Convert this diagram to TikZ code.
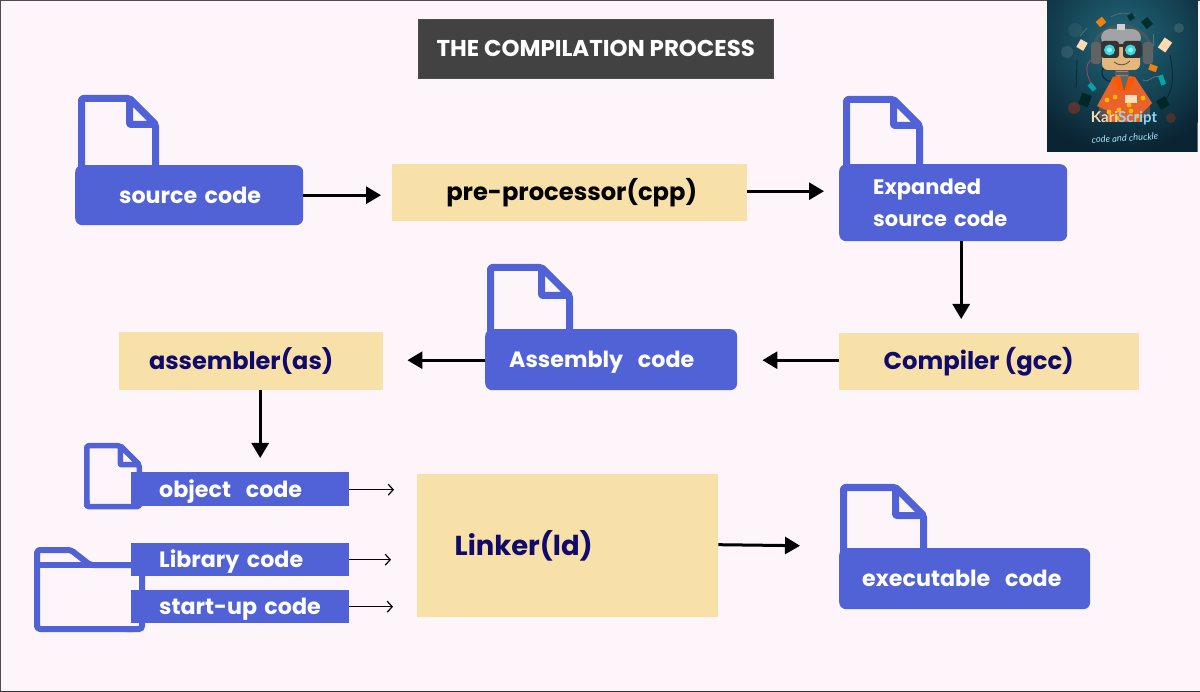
\documentclass[tikz,border=0pt]{standalone}
\usepackage{fontspec}
\setmainfont{Poppins}
\newfontfamily\logofont{Lato}
\usetikzlibrary{arrows.meta,calc}
\definecolor{pagebg}{HTML}{FEF5FB}
\definecolor{docblue}{HTML}{5062D6}
\definecolor{stage}{HTML}{F8E1A8}
\definecolor{navy}{HTML}{0F0A6B}
\definecolor{titlebg}{HTML}{424242}
\definecolor{teallit}{HTML}{22687A}
\definecolor{tealdeep}{HTML}{0A2433}
\definecolor{shirt}{HTML}{E8622A}
\definecolor{skin}{HTML}{E6B77C}
\definecolor{steel}{HTML}{8A8C8E}
\definecolor{glow}{HTML}{35D6DC}
\tikzset{
  x=1pt,y=-1pt,
  doclabel/.style={font=\fontsize{#1}{29}\selectfont\bfseries,text=white},
  docbox/.style={fill=docblue,rounded corners=7pt,anchor=north west,align=left,inner ysep=0pt},
  tagbox/.style={fill=docblue,anchor=north west,align=left,inner ysep=0pt,text depth=1.5pt},
  stagebox/.style={fill=stage,anchor=north west,align=center,inner sep=0pt},
  flow/.style={line width=3pt,-{Triangle[length=15pt,width=17pt]}},
  thinflow/.style={line width=1.2pt,-{Straight Barb[length=5pt,width=11pt,line width=1.2pt]}},
}
% document sheet outline with a folded corner: left, top, right, bottom, fold, stroke
\newcommand{\sheet}[6]{%
  \draw[docblue,line width=#6pt,rounded corners=2pt,line join=round]
    ({#1+#6/2},#4) -- ({#1+#6/2},{#2+#6/2}) -- ({#3-#6/2-#5},{#2+#6/2})
    -- ({#3-#6/2},{#2+#6/2+#5}) -- ({#3-#6/2},#4);
  \draw[docblue,line width=#6pt,rounded corners=1pt,line join=round,fill=pagebg]
    ({#3-#6/2-#5},{#2+#6/2}) -- ({#3-#6/2-#5},{#2+#6/2+#5}) -- ({#3-#6/2},{#2+#6/2+#5}) -- cycle;
}
% small gadget floating round the figure: x, y, angle, width, height, colour
\newcommand{\gadget}[6]{%
  \fill[#6,rotate around={#3:(#1,#2)}] ({#1-#4/2},{#2-#5/2}) rectangle ({#1+#4/2},{#2+#5/2});
}
\begin{document}
\begin{tikzpicture}
\useasboundingbox (0,0) rectangle (1200,692);
\fill[pagebg] (0,0) rectangle (1200,692);
\draw[black!70,line width=1.2pt] (0,692) -- (0,0) -- (1200,0);
\draw[black!80,line width=2.4pt] (0,692) -- (1200,692);

% title
\node[fill=titlebg,draw=black!70,line width=.5pt,minimum width=355pt,minimum height=59pt,inner sep=0pt,anchor=north west,
      font=\fontsize{22.9}{25}\selectfont\bfseries,text=white] (title) at (418,19) {THE COMPILATION PROCESS};

% sheet and folder icons sit behind their label boxes
\sheet{78}{95}{159}{172}{26}{7}
\sheet{843}{96}{923}{172}{26}{7}
\sheet{487}{264}{573}{336}{28}{7}
\sheet{840}{484}{927}{554}{28}{7}
\sheet{84}{443}{142}{506.5}{19}{5.5}
\draw[docblue,line width=5.5pt,rounded corners=2pt] (86.75,500) -- (86.75,506.5) -- (139.25,506.5) -- (139.25,500);
\draw[docblue,line width=6pt,rounded corners=3pt,line join=round]
  (133,629) -- (37,629) -- (37,550) -- (71,550) -- (90,565) -- (133,565);
\draw[docblue,line width=6pt] (37,565) -- (133,565);
\draw[docblue,line width=6pt,rounded corners=3pt] (142,570) -- (142,629) -- (125,629);

% label boxes
\node[docbox,minimum height=60pt,text width=164pt,inner xsep=32pt,doclabel=22.2,text depth=0pt] (src) at (75,165) {\hspace*{12pt}source code};
\node[docbox,minimum height=77pt,text width=160pt,inner xsep=34pt,doclabel=21] (exp) at (839,164)
  {\raisebox{-4pt}{Expanded}\\[3pt]\raisebox{-4pt}{source code}};
\node[docbox,minimum height=61pt,text width=204pt,inner xsep=24pt,doclabel=22.2,text depth=0pt] (asm) at (485,329) {Assembly\ \ code};
\node[docbox,minimum height=61pt,text width=205pt,inner xsep=23pt,doclabel=22.2,text depth=0pt] (exe) at (839,548) {executable\ \ code};
\node[tagbox,minimum height=34pt,text width=162pt,inner xsep=28pt,doclabel=22.2] (obj) at (131,472) {object\ \ code};
\node[tagbox,minimum height=33pt,text width=162pt,inner xsep=28pt,doclabel=22.2] (lib) at (131,543) {Library code};
\node[tagbox,minimum height=33pt,text width=162pt,inner xsep=28pt,doclabel=22.2] (sta) at (131,590) {start-up code};

% tool stages
\node[stagebox,minimum width=355pt,minimum height=57pt,text=black,font=\fontsize{24.2}{28}\selectfont\bfseries] (pre) at (392,164) {\hspace*{4pt}pre-processor(cpp)};
\node[stagebox,minimum width=300pt,minimum height=57pt,text=navy,font=\fontsize{24.3}{28}\selectfont\bfseries] (gcc) at (839,333) {\hspace*{-21pt}Compiler (gcc)};
\node[stagebox,minimum width=264pt,minimum height=58pt,text=navy,font=\fontsize{24}{28}\selectfont\bfseries] (as) at (119,332) {\hspace*{-20pt}assembler(as)};
\node[stagebox,minimum width=301pt,minimum height=143pt,text=navy,font=\fontsize{27.4}{30}\selectfont\bfseries] (ld) at (417,474) {\hspace*{-88pt}Linker(ld)};

% connectors
\draw[flow,shorten >=11pt] (src.east) -- (src.east -| pre.west);
\draw[flow,shorten >=15pt] ([yshift=1.5pt]pre.east) -- ([yshift=1.5pt]pre.east -| exp.west);
\draw[flow,shorten >=14pt] ([xshift=8pt]exp.south) -- ([xshift=8pt]exp.south |- gcc.north);
\draw[flow,shorten >=25pt] ([yshift=1.5pt]gcc.west) -- ([yshift=1.5pt]gcc.west -| asm.east);
\draw[flow,shorten >=24pt] ([yshift=-.5pt]asm.west) -- ([yshift=-.5pt]asm.west -| as.east);
\draw[flow,shorten >=14pt] ([xshift=9pt]as.south) -- ([xshift=9pt]as.south |- obj.north);
\draw[thinflow,shorten >=23pt] ([yshift=-.5pt]obj.east) -- ([yshift=-.5pt]obj.east -| ld.west);
\draw[thinflow,shorten >=26pt] (lib.east) -- (lib.east -| ld.west);
\draw[thinflow,shorten >=24pt] (sta.east) -- (sta.east -| ld.west);
\draw[flow,shorten >=39pt] ([yshift=1pt]ld.east) -- ([yshift=-.5pt]ld.east -| exe.west);

% badge: cartoon engineer on a dark teal field
\begin{scope}[shift={(1047,0)}]
  \begin{scope}
  \clip (0,0) rectangle (150.5,152);
  \fill[tealdeep] (0,0) rectangle (151,152);
  \shade[inner color=teallit,outer color=tealdeep] (75,40) circle (112);
  % out-of-focus specks
  \fill[white,opacity=.10] (20,52) circle (6);
  \fill[white,opacity=.12] (132,28) circle (5);
  \fill[red!60!orange,opacity=.30] (27,108) circle (6);
  \fill[red!60!orange,opacity=.25] (124,118) circle (5);
  \fill[white,opacity=.06] (28,30) circle (7);
  % wires
  \draw[steel!70!tealdeep,line width=.7pt] (64,17) .. controls (72,12) and (80,12) .. (88,16);
  \draw[purple!50!steel,line width=.8pt] (45,85) .. controls (35,68) and (40,56) .. (55,58);
  \draw[tealdeep,line width=.8pt] (123,55) .. controls (128,80) and (125,92) .. (118,100);
  \draw[tealdeep,line width=.8pt] (30,60) -- (29,88);
  \draw[steel!70!tealdeep,line width=.8pt] (113,78) .. controls (108,72) and (102,84) .. (96,80);
  \draw[tealdeep,line width=1pt] (62,62) .. controls (50,70) and (54,82) .. (68,82);
  \draw[steel!70!tealdeep,line width=.7pt] (33,36) -- (40,28);
  \draw[steel!70!tealdeep,line width=.7pt] (106,46) -- (106,34);
  % gadgets
  \gadget{54}{22}{40}{8}{7}{orange!80!brown}
  \gadget{100}{23}{40}{8}{9}{black!65!teal}
  \gadget{84}{17}{30}{6}{6}{black!60!teal}
  \gadget{35}{45}{-30}{8}{9}{orange!30!white}
  \gadget{118}{45}{-35}{9}{12}{orange!30!white}
  \gadget{106}{68}{-20}{8}{6}{orange!80!brown}
  \gadget{115}{80}{20}{5}{10}{teal!70!cyan}
  \gadget{45}{87}{40}{5}{8}{teal!70!cyan}
  \gadget{38}{100}{-20}{10}{12}{black!70!teal}
  \gadget{116}{103}{30}{10}{10}{black!70!teal}
  % neck and arms
  \fill[black!65] (68,68) rectangle (82,84);
  \foreach \ny in {71,75,79} \draw[steel,line width=.6pt] (69,\ny) -- (81,\ny);
  \fill[steel!60!black] (52,104) rectangle (63,118);
  \fill[steel!60!black] (92,104) rectangle (103,118);
  % shirt
  \fill[shirt] (66,77) -- (88,77) -- (105,103) -- (95,113) -- (95,122) -- (61,122) -- (61,111) -- (50,106) -- cycle;
  \fill[black!60] (73,76) -- (82,76) -- (77,92) -- cycle;
  \fill[orange!70!red] (66,77) -- (73,76) -- (77,92) -- (70,90) -- cycle;
  \fill[orange!70!red] (88,77) -- (82,76) -- (77,92) -- (84,90) -- cycle;
  \fill[orange!25!white] (78,95) rectangle (90,103);
  \foreach \fx/\fy in {60/100,68/97,62/112,72/110,96/98,84/111,70/118,90/116,82/105}
    \fill[orange!55!yellow] (\fx,\fy) circle (2.4);
  % headphones
  \draw[steel!60!black,line width=2.5pt] (46,58) .. controls (42,15) and (108,15) .. (104,58);
  \fill[steel!70!black,rounded corners=3pt] (44,42) rectangle (54,64);
  \fill[steel!70!black,rounded corners=3pt] (96,42) rectangle (106,64);
  % head and helmet
  \fill[skin,rounded corners=6pt] (55,33) rectangle (93,70);
  \fill[steel!80!white,rounded corners=9pt] (54,29) rectangle (94,46);
  \fill[steel!40!white] (70,24) rectangle (78,30);
  % goggles
  \fill[black!80,rounded corners=3pt] (54,41) rectangle (72,58);
  \fill[black!80,rounded corners=3pt] (76,41) rectangle (95,58);
  \fill[black!80] (70,44) rectangle (78,47);
  \fill[glow] (62.5,50) circle (5.5);
  \fill[glow] (83.5,50) circle (5.5);
  \fill[white!50!glow] (62.5,50) circle (2.5);
  \fill[white!50!glow] (83.5,50) circle (2.5);
  \draw[black!70,line width=.8pt] (67,62) .. controls (72,66) and (78,66) .. (83,61);
  \end{scope}
  % badge wording
  \node[font=\logofont\fontsize{15}{16}\selectfont\bfseries,inner sep=0pt] (brand) at (77,118)
    {\textcolor{orange!30!white}{Kari}\textcolor{cyan!45!white}{Script}};
  \node[font=\logofont\itshape\fontsize{9.3}{10}\selectfont,text=cyan!35!white,inner sep=0pt,rotate=3] (motto) at (78,138) {code and chuckle};
\end{scope}
\end{tikzpicture}
\end{document}
